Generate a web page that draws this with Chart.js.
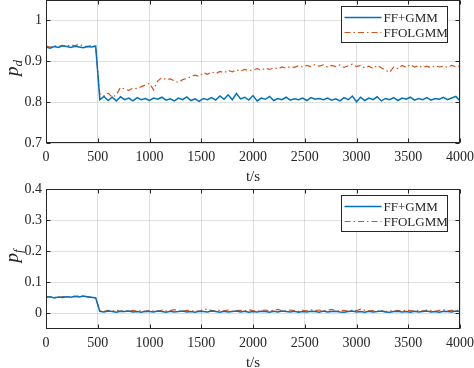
<!DOCTYPE html>
<html>
<head>
<meta charset="utf-8">
<script src="https://cdn.jsdelivr.net/npm/chart.js@4/dist/chart.umd.min.js"></script>
<style>
  html, body { margin: 0; padding: 0; background: #fff; overflow: hidden; }
  body { width: 474px; height: 368px; position: relative; }
  canvas { position: absolute; left: 0; }
  .ylab {
    position: absolute; width: 40px; height: 24px; line-height: 24px;
    text-align: center; transform: rotate(-90deg);
    font-family: 'Liberation Serif', 'Times New Roman', serif;
    font-size: 19px; font-style: italic; color: #262626;
  }
  .ylab sub { font-size: 13px; vertical-align: -4px; }
</style>
</head>
<body>
<canvas id="bottom" width="474" height="196" style="top:176px"></canvas>
<canvas id="top" width="474" height="186" style="top:0"></canvas>
<div class="ylab" style="left:-8px; top:56px">p<sub>d</sub></div>
<div class="ylab" style="left:-8px; top:244px">p<sub>f</sub></div>
<script>
// sample times, 0..4000 s every 40 s
const times = Array.from({ length: 101 }, (_, i) => i * 40)
const xTicks = [0, 500, 1000, 1500, 2000, 2500, 3000, 3500, 4000]
const pdTicks = [0.7, 0.8, 0.9, 1]
const pfTicks = [0, 0.1, 0.2, 0.3, 0.4]
const seriesNames = ['FF+GMM', 'FFOLGMM']

// detection probability p_d
const pdGmm = [
  0.935, 0.932, 0.936, 0.934, 0.938, 0.936, 0.934, 0.937, 0.935, 0.933, 0.936, 0.935, 0.937,
  0.806, 0.814, 0.804, 0.812, 0.803, 0.813, 0.806, 0.810, 0.803, 0.811,
  0.806, 0.809, 0.804, 0.810, 0.807, 0.812, 0.805, 0.808, 0.803, 0.810,
  0.806, 0.813, 0.804, 0.808, 0.802, 0.809, 0.806, 0.811, 0.805, 0.815,
  0.807, 0.818, 0.806, 0.821, 0.808, 0.812, 0.805, 0.816, 0.803, 0.810,
  0.807, 0.814, 0.804, 0.809, 0.806, 0.812, 0.805, 0.808, 0.806, 0.810,
  0.804, 0.811, 0.807, 0.809, 0.806, 0.810, 0.805, 0.808, 0.803, 0.811,
  0.806, 0.815, 0.801, 0.812, 0.804, 0.810, 0.806, 0.813, 0.803, 0.809,
  0.806, 0.811, 0.804, 0.810, 0.807, 0.812, 0.805, 0.809, 0.806, 0.811,
  0.805, 0.809, 0.807, 0.812, 0.806, 0.810, 0.814, 0.803
]
const pdOlgmm = [
  0.937, 0.935, 0.938, 0.936, 0.939, 0.937, 0.940, 0.938, 0.942, 0.937, 0.936, 0.939, 0.937,
  0.820, 0.815, 0.822, 0.812, 0.818, 0.836, 0.832, 0.829, 0.834, 0.833,
  0.838, 0.842, 0.846, 0.830, 0.852, 0.860, 0.855, 0.857, 0.852, 0.848,
  0.855, 0.858, 0.862, 0.866, 0.863, 0.872, 0.868, 0.874, 0.870, 0.875,
  0.872, 0.878, 0.874, 0.879, 0.876, 0.880, 0.877, 0.879, 0.882, 0.878,
  0.883, 0.880, 0.884, 0.882, 0.886, 0.883, 0.887, 0.885, 0.889, 0.886,
  0.890, 0.887, 0.892, 0.888, 0.891, 0.886, 0.890, 0.887, 0.891, 0.885,
  0.889, 0.893, 0.887, 0.890, 0.884, 0.888, 0.882, 0.890, 0.884, 0.878,
  0.873, 0.886, 0.882, 0.890, 0.885, 0.892, 0.886, 0.889, 0.885, 0.888,
  0.884, 0.889, 0.886, 0.888, 0.885, 0.890, 0.887, 0.888
]

// false alarm probability p_f
const pfGmm = [
  0.052, 0.054, 0.050, 0.053, 0.051, 0.054, 0.052, 0.055, 0.053, 0.056, 0.054, 0.052, 0.050,
  0.007, 0.005, 0.008, 0.006, 0.004, 0.007, 0.006, 0.008, 0.005, 0.006,
  0.004, 0.007, 0.006, 0.005, 0.008, 0.006, 0.004, 0.007, 0.005, 0.006,
  0.008, 0.005, 0.006, 0.004, 0.007, 0.006, 0.005, 0.008, 0.006, 0.004,
  0.007, 0.005, 0.006, 0.008, 0.005, 0.007, 0.004, 0.006, 0.005, 0.007,
  0.006, 0.004, 0.007, 0.005, 0.008, 0.006, 0.005, 0.007, 0.004, 0.006,
  0.005, 0.007, 0.006, 0.004, 0.008, 0.005, 0.006, 0.007, 0.005, 0.004,
  0.006, 0.008, 0.005, 0.006, 0.004, 0.007, 0.005, 0.006, 0.008, 0.005,
  0.004, 0.006, 0.007, 0.005, 0.006, 0.004, 0.007, 0.005, 0.006, 0.008,
  0.005, 0.006, 0.004, 0.007, 0.006, 0.005, 0.008, 0.006
]
const pfOlgmm = [
  0.055, 0.052, 0.053, 0.051, 0.054, 0.053, 0.055, 0.054, 0.057, 0.055, 0.053, 0.051, 0.049,
  0.009, 0.007, 0.010, 0.008, 0.011, 0.007, 0.009, 0.008, 0.010, 0.007,
  0.009, 0.006, 0.010, 0.008, 0.007, 0.011, 0.008, 0.009, 0.012, 0.008,
  0.007, 0.010, 0.008, 0.009, 0.007, 0.012, 0.014, 0.009, 0.008, 0.010,
  0.008, 0.011, 0.007, 0.009, 0.010, 0.008, 0.012, 0.009, 0.007, 0.010,
  0.011, 0.008, 0.010, 0.013, 0.009, 0.008, 0.011, 0.009, 0.007, 0.010,
  0.008, 0.012, 0.009, 0.011, 0.008, 0.010, 0.013, 0.009, 0.008, 0.010,
  0.007, 0.011, 0.009, 0.014, 0.010, 0.008, 0.009, 0.007, 0.008, 0.006,
  0.009, 0.007, 0.010, 0.008, 0.011, 0.009, 0.007, 0.010, 0.008, 0.011,
  0.009, 0.007, 0.010, 0.012, 0.008, 0.010, 0.009, 0.011
]

const serif = "'Liberation Serif', 'Times New Roman', serif"
const ink = '#262626'
const blue = '#0072BD'
const red = '#D95319'

// axes box with inward ticks on all four sides, like matlab
const frame = {
  id: 'frame',
  afterDraw (chart) {
    const { ctx, chartArea: a, scales } = chart
    const L = Math.round(a.left) + 0.5
    const R = Math.round(a.right) - 0.5
    const T = Math.round(a.top) + 0.5
    const B = Math.round(a.bottom) - 0.5
    ctx.save()
    ctx.strokeStyle = ink
    ctx.lineWidth = 1
    ctx.beginPath()
    scales.x.ticks.forEach(t => {
      const px = Math.round(scales.x.getPixelForValue(t.value)) + 0.5
      ctx.moveTo(px, B); ctx.lineTo(px, B - 4)
      ctx.moveTo(px, T); ctx.lineTo(px, T + 4)
    })
    scales.y.ticks.forEach(t => {
      const py = Math.round(scales.y.getPixelForValue(t.value)) + 0.5
      ctx.moveTo(L, py); ctx.lineTo(L + 4, py)
      ctx.moveTo(R, py); ctx.lineTo(R - 4, py)
    })
    ctx.stroke()
    ctx.strokeRect(L, T, R - L, B - T)
    ctx.restore()
  }
}

// boxed legend in the top right corner of the axes
const boxLegend = {
  id: 'boxLegend',
  afterDatasetsDraw (chart) {
    const { ctx, chartArea: a } = chart
    const w = 106, h = 36
    const x0 = Math.round(a.right - 13 - w) + 0.5
    const y0 = Math.round(a.top + 6) + 0.5
    ctx.save()
    ctx.fillStyle = '#fff'
    ctx.fillRect(x0, y0, w, h)
    ctx.strokeStyle = ink
    ctx.lineWidth = 1
    ctx.strokeRect(x0, y0, w, h)
    ctx.font = '13px ' + serif
    ctx.textBaseline = 'middle'
    chart.data.datasets.forEach((ds, i) => {
      const yy = y0 + 11 + i * 15
      ctx.strokeStyle = ds.borderColor
      ctx.lineWidth = ds.borderWidth
      ctx.setLineDash(ds.borderDash || [])
      ctx.beginPath()
      ctx.moveTo(x0 + 3, yy)
      ctx.lineTo(x0 + 40, yy)
      ctx.stroke()
      ctx.setLineDash([])
      ctx.fillStyle = ink
      ctx.fillText(ds.label, x0 + 42, yy + 1)
    })
    ctx.restore()
  }
}

function makeChart (id, a, b, yMin, yMax, yTicks, padTop) {
  return new Chart(document.getElementById(id), {
    type: 'line',
    data: {
      labels: times,
      datasets: [
        { label: seriesNames[0], data: a, borderColor: blue, borderWidth: 1.5 },
        { label: seriesNames[1], data: b, borderColor: red, borderWidth: 1.2, borderDash: [6, 3, 1.5, 3] }
      ]
    },
    options: {
      responsive: false,
      animation: false,
      devicePixelRatio: 1,
      layout: { padding: { top: padTop, right: 14, left: 0, bottom: 0 } },
      elements: { point: { radius: 0 }, line: { tension: 0 } },
      plugins: { legend: { display: false }, tooltip: { enabled: false } },
      scales: {
        x: {
          type: 'linear',
          min: 0,
          max: 4000,
          afterBuildTicks: s => { s.ticks = xTicks.map(v => ({ value: v })) },
          afterFit: s => { s.height = 43; s.paddingRight = 0; s.paddingLeft = 0 },
          ticks: { font: { family: serif, size: 14 }, color: ink, padding: 6, maxRotation: 0, callback: v => v },
          grid: { color: 'rgba(0,0,0,0.12)', drawTicks: false },
          border: { display: false },
          title: { display: true, text: 't/s', font: { family: serif, size: 15 }, color: ink, padding: 0 }
        },
        y: {
          min: yMin,
          max: yMax,
          afterBuildTicks: s => { s.ticks = yTicks.map(v => ({ value: v })) },
          afterFit: s => { s.width = 46; s.paddingTop = 0; s.paddingBottom = 0 },
          ticks: { font: { family: serif, size: 14 }, color: ink, padding: 4, callback: v => v },
          grid: { color: 'rgba(0,0,0,0.12)', drawTicks: false },
          border: { display: false }
        }
      }
    },
    plugins: [frame, boxLegend]
  })
}

makeChart('top', pdGmm, pdOlgmm, 0.7, 1.05, pdTicks, 0)
makeChart('bottom', pfGmm, pfOlgmm, -0.05, 0.4, pfTicks, 13)
</script>
</body>
</html>
